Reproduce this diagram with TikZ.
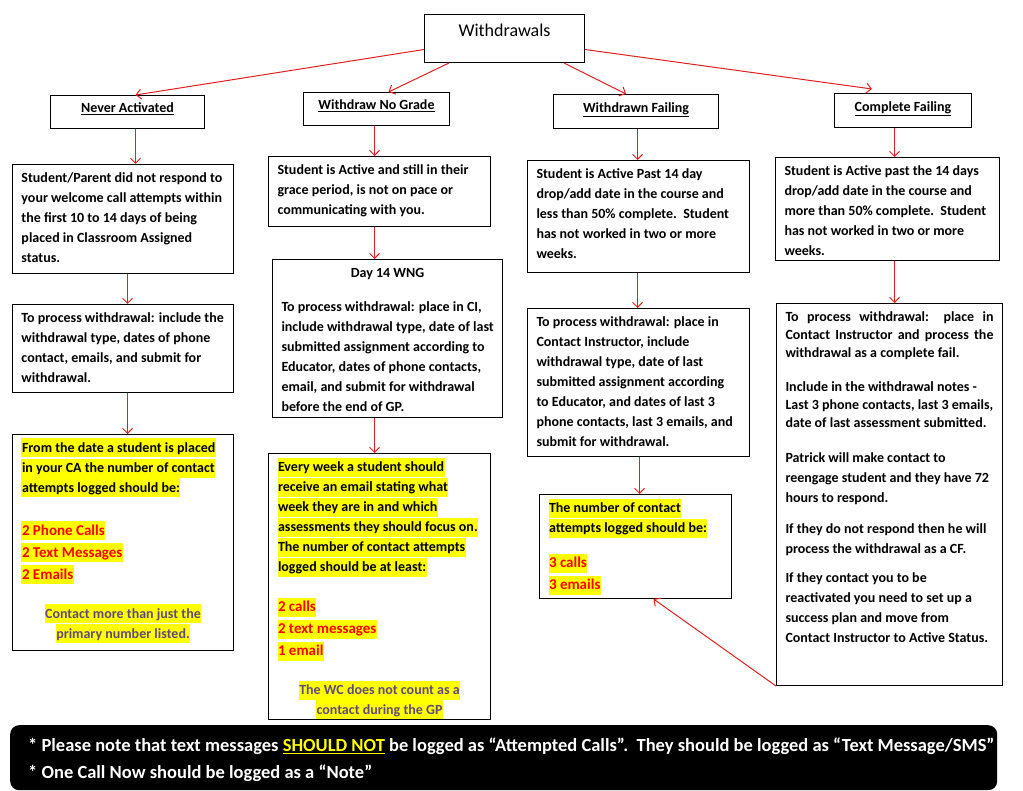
\documentclass[tikz,border=0pt]{standalone}
\usepackage{fontspec}
\setmainfont{Carlito}
\usepackage{xcolor}
\usetikzlibrary{arrows.meta}
\definecolor{markyellow}{HTML}{FFFF00}
\definecolor{textred}{HTML}{FF0000}
\definecolor{textpurple}{HTML}{604A7B}
\definecolor{linkred}{HTML}{E0201F}
\newcommand{\hilite}[1]{{\setlength{\fboxsep}{0.5pt}\colorbox{markyellow}{\rule[-4.5pt]{0pt}{18pt}#1}}}
\newcommand{\redhl}[1]{\hilite{\color{textred}#1}}
\newcommand{\purhl}[1]{\hilite{\color{textpurple}#1}}
\newcommand{\boxbody}[3]{\parbox[t][#2][t]{#1}{\raggedright\leftskip=9pt\rightskip=0pt plus 1fil minus 40pt\leavevmode\rule{0pt}{18pt}#3}}
\tikzset{
  titlebox/.style={
    draw, line width=1pt, anchor=north west, inner sep=0pt,
    minimum width=160pt, text height=22pt, text depth=26pt,
    font=\fontsize{18}{22}\selectfont
  },
  headbox/.style={
    draw, line width=1pt, anchor=north west, inner sep=0pt,
    minimum height=33pt, text height=10pt, text depth=8pt,
    font=\fontsize{14}{20}\selectfont\bfseries
  },
  cell/.style={
    draw, line width=1pt, anchor=north west, inner sep=0pt,
    font=\fontsize{14}{20}\selectfont\bfseries
  },
  arr/.style={
    -{Straight Barb[length=5pt,width=10pt]},
    draw=linkred, line width=1pt
  },
  notebar/.style={
    fill=black, rounded corners=9pt, anchor=north west, inner sep=0pt,
    text=white, font=\fontsize{18.5}{27}\selectfont\bfseries
  },
}
\begin{document}
\begin{tikzpicture}[x=1pt,y=-1pt]
  \useasboundingbox (0,0) rectangle (1023,791);
  % top
  \node[titlebox] (wd) at (424,14) {Withdrawals};
  \node[headbox, minimum width=154pt] (na) at (50,95) {\underline{Never Activated}};
  \node[headbox, minimum width=146pt] (nb) at (303,92) {\underline{Withdraw No Grade}};
  \node[headbox, minimum width=165pt, minimum height=34pt] (nc) at (553,94) {\underline{Withdrawn Failing}};
  \node[headbox, minimum width=137pt, minimum height=34pt] (nd) at (834,93) {\underline{Complete Failing}};
  \draw[arr] ([yshift=-11pt]wd.west) -- ([xshift=8pt]na.north);
  \draw[arr] ([xshift=25pt]wd.south west) -- ([xshift=12pt]nb.north);
  \draw[arr] ([xshift=-21pt]wd.south east) -- ([xshift=-10pt]nc.north);
  \draw[arr] ([yshift=-11pt]wd.east) -- ([xshift=-31pt,yshift=4pt]nd.north);

  % never activated
  \node[cell] (a1) at (12,164) {\boxbody{221pt}{109pt}{%
    Student/Parent did not respond to\\
    your welcome call attempts within\\
    the first 10 to 14 days of being\\
    placed in Classroom Assigned\\
    status.}};
  \node[cell] (a2) at (12,304) {\boxbody{221pt}{88pt}{%
    To process withdrawal: include the\\
    withdrawal type, dates of phone\\
    contact, emails, and submit for\\
    withdrawal.}};
  \node[cell] (a3) at (12,434) {\boxbody{221pt}{216pt}{%
    \hilite{From the date a student is placed}\\
    \hilite{in your CA the number of contact}\\
    \hilite{attempts logged should be:}\par
    {\fontsize{15}{22}\selectfont\vspace*{21pt}%
    \redhl{2 Phone Calls}\\
    \redhl{2 Text Messages}\\
    \redhl{2 Emails}\par}
    \vspace*{19pt}%
    {\centering\purhl{Contact more than just the}\\
    \purhl{primary number listed.}\par}}};
  \draw[arr] ([xshift=8pt]na.south) -- ([xshift=8pt]na.south |- a1.north);
  \draw[arr] ([xshift=4.5pt]a1.south) -- ([xshift=4.5pt]a2.north);
  \draw[arr] ([xshift=4.5pt]a2.south) -- ([xshift=4.5pt]a3.north);

  % withdraw no grade
  \node[cell] (b1) at (268,156) {\boxbody{222pt}{70pt}{%
    Student is Active and still in their\\
    grace period, is not on pace or\\
    communicating with you.}};
  \node[cell] (b2) at (272,259) {\boxbody{230pt}{158pt}{%
    {\centering Day 14 WNG\par}
    \vspace*{14pt}%
    To process withdrawal: place in CI,\\
    include withdrawal type, date of last\\
    submitted assignment according to\\
    Educator, dates of phone contacts,\\
    email, and submit for withdrawal\\
    before the end of GP.}};
  \node[cell] (b3) at (268,453) {\boxbody{222pt}{266pt}{%
    \hilite{Every week a student should}\\
    \hilite{receive an email stating what}\\
    \hilite{week they are in and which}\\
    \hilite{assessments they should focus on.}\\
    \hilite{The number of contact attempts}\\
    \hilite{logged should be at least:}\par
    {\fontsize{15}{22}\selectfont\vspace*{18pt}%
    \redhl{2 calls}\\
    \redhl{2 text messages}\\
    \redhl{1 email}\par}
    \vspace*{19pt}%
    {\centering\purhl{The WC does not count as a}\\
    \purhl{contact during the GP}\par}}};
  \draw[arr] ([xshift=-2pt]nb.south) -- ([xshift=-2pt]nb.south |- b1.north);
  \draw[arr] ([xshift=-5pt]b1.south) -- ([xshift=-5pt]b1.south |- b2.north);
  \draw[arr] ([xshift=-13pt]b2.south) -- ([xshift=-13pt]b2.south |- b3.north);

  % withdrawn failing
  \node[cell] (c1) at (527,160) {\boxbody{222pt}{112pt}{%
    Student is Active Past 14 day\\
    drop/add date in the course and\\
    less than 50\% complete.\ \ Student\\
    has not worked in two or more\\
    weeks.}};
  \node[cell] (c2) at (527,308) {\boxbody{222pt}{148pt}{%
    To process withdrawal: place in\\
    Contact Instructor, include\\
    withdrawal type, date of last\\
    submitted assignment according\\
    to Educator, and dates of last 3\\
    phone contacts, last 3 emails, and\\
    submit for withdrawal.}};
  \node[cell] (c3) at (539,494) {\boxbody{192pt}{104pt}{%
    \hilite{The number of contact}\\
    \hilite{attempts logged should be:}\par
    {\fontsize{15}{22}\selectfont\vspace*{13pt}%
    \redhl{3 calls}\\
    \redhl{3 emails}\par}}};
  \draw[arr] ([xshift=1.5pt]nc.south) -- ([xshift=1.5pt]nc.south |- c1.north);
  \draw[arr] ([xshift=-1pt]c1.south) -- ([xshift=-1pt]c1.south |- c2.north);
  \draw[arr] ([xshift=1pt]c2.south) -- ([xshift=1pt]c2.south |- c3.north);

  % complete failing
  \node[cell] (d1) at (775,157) {\boxbody{224pt}{103pt}{%
    Student is Active past the 14 days\\
    drop/add date in the course and\\
    more than 50\% complete.\ \ Student\\
    has not worked in two or more\\
    weeks.}};
  \node[cell] (d2) at (776,303) {\boxbody{226pt}{382pt}{%
    {\baselineskip=18pt
    \makebox[208pt][s]{To process withdrawal: place in}\\
    \makebox[208pt][s]{Contact Instructor and process the}\\
    withdrawal as a complete fail.\par
    \vspace*{16pt}%
    Include in the withdrawal notes -\\
    Last 3 phone contacts, last 3 emails,\\
    date of last assessment submitted.\par}
    \vspace*{15pt}%
    Patrick will make contact to\\
    reengage student and they have 72\\
    hours to respond.\par
    \vspace*{11pt}%
    If they do not respond then he will\\
    process the withdrawal as a CF.\par
    \vspace*{9pt}%
    If they contact you to be\\
    reactivated you need to set up a\\
    success plan and move from\\
    Contact Instructor to Active Status.}};
  \draw[arr] ([xshift=-8.5pt]nd.south) -- ([xshift=-8.5pt]nd.south |- d1.north);
  \draw[arr] ([xshift=7pt]d1.south) -- ([xshift=7pt]d1.south |- d2.north);
  \draw[arr] (d2.south west) -- ([xshift=18pt]c3.south);

  % note
  \node[notebar] (note) at (10,725) {\parbox[t][65pt][t]{987pt}{\leftskip=18pt\leavevmode\rule{0pt}{26pt}%
    \mbox{* Please note that text messages \textcolor{markyellow}{\underline{SHOULD NOT}} be logged as “Attempted Calls”.\ \ They should be logged as “Text Message/SMS”}\\{}%
    * One Call Now should be logged as a “Note”}};
\end{tikzpicture}
\end{document}
